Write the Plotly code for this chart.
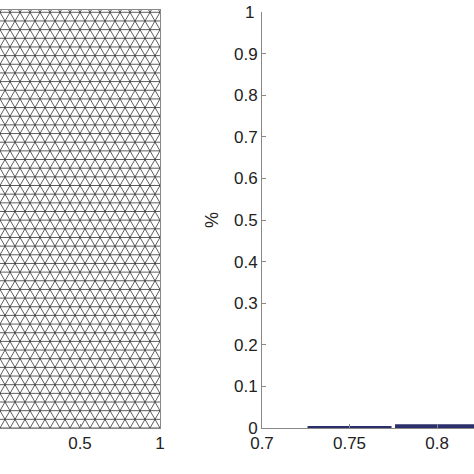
import numpy as np
import plotly.graph_objects as go

# histogram data (right panel)
bin_left = [0.725, 0.775, 0.825, 0.875]
bin_right = [0.775, 0.825, 0.875, 0.925]
pct = [0.004, 0.009, 0.05, 0.2]

# y tick labels (right panel)
y_ticks = [i/10 for i in range(11)]
y_labels = ['0'] + [f'0.{i}' for i in range(1, 10)] + ['1']

# mesh geometry (left panel): regular triangular lattice
h = 1/16
H = 2.6125
r = h*np.sqrt(3)/2
xs, ys = [], []
for k in range(int(H/r)+2):
    xs += [-0.1, 1.1, None]; ys += [k*r, k*r, None]
s = np.sqrt(3)
for c in np.arange(-4, 2, h):
    xs += [c, c + H/s*1.05, None]; ys += [0, H*1.05, None]
    xs += [c+4, c+4 - H/s*1.05, None]; ys += [0, H*1.05, None]

fig = go.Figure()
fig.add_trace(go.Scatter(x=xs, y=ys, mode='lines', line=dict(color='#333', width=0.8),
                         xaxis='x', yaxis='y', hoverinfo='skip'))
fig.add_trace(go.Bar(x=[(a+b)/2 for a, b in zip(bin_left, bin_right)], y=pct,
                     width=[(b-a)*0.96 for a, b in zip(bin_left, bin_right)],
                     marker=dict(color='#2b2f6b', line=dict(width=0)),
                     xaxis='x2', yaxis='y2'))
font = dict(family='Liberation Sans', size=17, color='#222')
ax = dict(showline=True, linecolor='#888', mirror=True, ticks='inside', ticklen=4,
          tickcolor='#888', showgrid=False, zeroline=False, automargin=False, tickfont=font)
fig.update_layout(
    width=474, height=474, margin=dict(l=0, r=0, t=0, b=0), showlegend=False,
    plot_bgcolor='white', paper_bgcolor='white',
    xaxis=dict(ax, domain=[0, 160/474], range=[0, 1], tickvals=[0.5, 1], ticktext=['0.5', '1']),
    yaxis=dict(ax, domain=[46/474, 464/474], range=[0, H], showticklabels=False, ticks=''),
    xaxis2=dict(ax, domain=[262/474, 1], range=[0.7, 0.8211], tickvals=[0.7, 0.75, 0.8],
                ticktext=['0.7', '0.75', '0.8'], anchor='y2', mirror=False),
    yaxis2=dict(ax, domain=[46/474, 462/474], range=[0, 1], anchor='x2', mirror=False,
                tickvals=y_ticks, ticktext=y_labels[:-1] + [''],
                title=dict(text='%', font=dict(family='Liberation Sans', size=18, color='#222'), standoff=10)),
)
fig.add_annotation(x=0.7, y=y_ticks[-1], xref='x2', yref='y2', text=y_labels[-1], showarrow=False,
                   xanchor='right', yanchor='middle', xshift=-6, font=font)
fig.write_html("out.html", config={'displayModeBar': False},
               post_script="document.body.style.margin='0';document.body.style.overflow='hidden';")
